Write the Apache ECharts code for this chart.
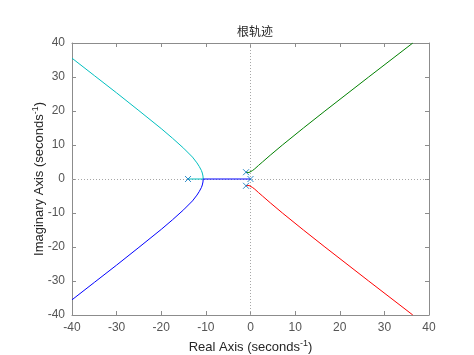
<!DOCTYPE html>
<html>
<head>
<meta charset="utf-8">
<script src="https://cdn.jsdelivr.net/npm/echarts@6/dist/echarts.min.js"></script>
<style>html,body{margin:0;padding:0;background:#fff}#c{width:474px;height:355px}</style>
</head>
<body>
<div id="c"></div>
<script>
var titleText = '根轨迹';
var xTicks = [-40, -30, -20, -10, 0, 10, 20, 30, 40];
var yTicks = [-40, -30, -20, -10, 0, 10, 20, 30, 40];
var poles = [[0, 0], [-1, 2], [-1, -2], [-14, 0]];
var branchCyan = [[-14, 0], [-10.6, 0], [-10.65, 0.88], [-10.7, 1.24], [-10.8, 1.76], [-11, 2.5], [-11.5, 3.72], [-12, 4.74], [-13, 6.44], [-15, 9.07], [-17.5, 12.02], [-20, 14.82], [-25, 20.1], [-30, 25.32], [-35, 30.42], [-40, 35.53]];
var branchBlue = [[0, 0], [-10.6, 0], [-10.65, -0.88], [-10.7, -1.24], [-10.8, -1.76], [-11, -2.5], [-11.5, -3.72], [-12, -4.74], [-13, -6.44], [-15, -9.07], [-17.5, -12.02], [-20, -14.82], [-25, -20.1], [-30, -25.32], [-35, -30.42], [-40, -35.53]];
var branchGreen = [[-1, 2], [-0.82, 1.9], [-0.6, 1.86], [-0.35, 1.9], [-0.14, 2], [0.47, 2.5], [0.96, 3], [1.8, 4], [2.68, 5], [4.43, 7], [7.15, 10], [11.86, 15], [16.68, 20], [26.48, 30], [36.37, 40]];
var branchRed = [[-1, -2], [-0.82, -1.9], [-0.6, -1.86], [-0.35, -1.9], [-0.14, -2], [0.47, -2.5], [0.96, -3], [1.8, -4], [2.68, -5], [4.43, -7], [7.15, -10], [11.86, -15], [16.68, -20], [26.48, -30], [36.37, -40]];
var zeroLines = [{ xAxis: 0 }, { yAxis: 0 }];

var chart = echarts.init(document.getElementById('c'));
var labelFont = 'Liberation Sans, Arial, sans-serif';
function axisCommon(show) {
  return {
    type: 'value', min: -40, max: 40, interval: 10,
    axisLine: { show: true, onZero: false, lineStyle: { color: '#8c8c8c', width: 1 } },
    axisTick: { show: true, inside: true, length: 4, lineStyle: { color: '#8c8c8c' } },
    splitLine: { show: false },
    axisLabel: { show: show, color: '#555', fontSize: 12, fontFamily: labelFont },
  };
}
var supRich = { sup: { fontSize: 9, color: '#262626', fontFamily: labelFont, padding: [0, 0, 8, 0] } };
var xMain = axisCommon(true);
xMain.position = 'bottom';
xMain.axisLabel.margin = 7;
xMain.name = 'Real Axis (seconds{sup|-1})';
xMain.nameLocation = 'middle';
xMain.nameGap = 23;
xMain.nameTextStyle = { color: '#262626', fontSize: 13, fontFamily: labelFont, rich: supRich };
var xTop = axisCommon(false);
xTop.position = 'top';
var yMain = axisCommon(true);
yMain.position = 'left';
yMain.axisLabel.margin = 7;
yMain.name = 'Imaginary Axis (seconds{sup|-1})';
yMain.nameLocation = 'middle';
yMain.nameGap = 24;
yMain.nameMoveOverlap = false;
yMain.nameRotate = 90;
yMain.nameTextStyle = { color: '#262626', fontSize: 13, fontFamily: labelFont, rich: supRich };
var yRight = axisCommon(false);
yRight.position = 'right';

function lineSeries(data, color) {
  return { type: 'line', data: data, showSymbol: false, symbol: 'none', lineStyle: { color: color, width: 1 }, itemStyle: { color: color }, z: 3, silent: true };
}

chart.setOption({
  animation: false,
  title: { text: titleText, left: 250, top: 20, textAlign: 'center', textStyle: { fontSize: 12, fontWeight: 'normal', color: '#262626', fontFamily: 'Noto Sans CJK SC' } },
  grid: { left: 72, right: 45, top: 43, bottom: 40, containLabel: false, outerBoundsMode: 'none' },
  xAxis: [xMain, xTop],
  yAxis: [yMain, yRight],
  series: [
    {
      type: 'line', data: [], z: 1, silent: true,
      markLine: { silent: true, symbol: 'none', label: { show: false }, lineStyle: { color: '#a6a6a6', type: [1, 2], width: 1 }, data: zeroLines, z: 1 }
    },
    lineSeries(branchCyan, '#00bfbf'),
    lineSeries(branchBlue, '#0000ff'),
    lineSeries(branchGreen, '#008000'),
    lineSeries(branchRed, '#ff0000'),
    {
      type: 'scatter', data: poles, symbol: 'path://M0,0L10,10M10,0L0,10', symbolSize: 6,
      itemStyle: { color: 'none', borderColor: '#0072bd', borderWidth: 1 }, z: 5, silent: true
    }
  ]
});
</script>
</body>
</html>
